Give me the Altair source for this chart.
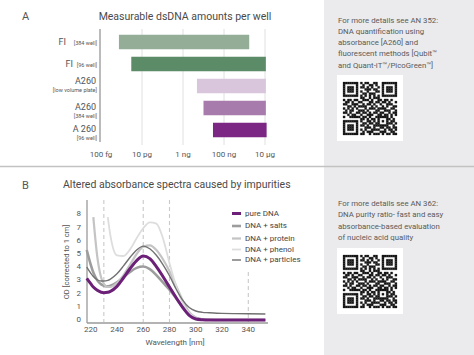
import altair as alt
import pandas as pd

FONT = "Roboto"

# ---------------- Panel A: measurable dsDNA amounts ----------------
methods = ["FI 384", "FI 96", "A260 low", "A260 384", "A260 96"]
main_labels = ["FI", "FI", "A260", "A260", "A 260"]
sub_labels = ["[384 well]", "[96 well]", "[low volume plate]", "[384 well]", "[96 well]"]
range_low_g = [7.5e-13, 3.0e-12, 4.8e-9, 1.0e-8, 2.9e-8]
range_high_g = [1.7e-6, 1.1e-5, 1.1e-5, 1.1e-5, 1.2e-5]
bar_colors = ["#94ad97", "#5c8b68", "#d9c5dc", "#a77cad", "#7c2784"]
mass_ticks = [1e-13, 1e-11, 1e-9, 1e-7, 1e-5]
mass_tick_labels = ["100 fg", "10 pg", "1 ng", "100 ng", "10 µg"]

# ---------------- Panel B: absorbance spectra ----------------
wavelength_nm = [217, 220, 222, 225, 228, 230, 233, 235, 240, 245, 250, 255, 260, 265,
                 270, 275, 280, 285, 290, 295, 300, 305, 310, 320, 330, 340, 353]
od_pure = [3.15, 2.75, 2.5, 2.25, 2.1, 2.07, 2.1, 2.17, 2.55, 3.2, 3.9, 4.5, 4.85, 4.65,
           4.05, 3.3, 2.5, 1.7, 0.95, 0.35, 0.08, 0.02, 0.0, 0.0, 0.0, 0.0, 0.0]
od_salts = [5.3, 4.2, 3.6, 3.0, 2.7, 2.6, 2.55, 2.6, 2.85, 3.25, 3.65, 3.95, 4.05, 3.85,
            3.4, 2.85, 2.3, 1.65, 1.0, 0.45, 0.15, 0.05, 0.02, 0.0, 0.0, 0.0, 0.0]
od_protein = [None, None, 7.8, 4.8, 3.2, 2.75, 2.5, 2.5, 2.8, 3.4, 4.2, 5.0, 5.55, 5.65,
              5.3, 4.6, 3.7, 2.6, 1.5, 0.6, 0.2, 0.05, 0.0, 0.0, 0.0, 0.0, 0.0]
od_phenol = [None, None, None, None, None, None, 7.8, 6.4, 4.9, 4.85, 5.35, 6.2, 6.95, 7.4,
             7.3, 6.2, 4.3, 2.6, 1.3, 0.5, 0.15, 0.04, 0.0, 0.0, 0.0, 0.0, 0.0]
od_particles = [4.0, 3.55, 3.3, 3.05, 2.95, 2.95, 3.0, 3.1, 3.5, 4.1, 4.75, 5.3, 5.6, 5.4,
                4.9, 4.2, 3.35, 2.35, 1.5, 0.95, 0.68, 0.58, 0.55, 0.5, 0.48, 0.47, 0.46]
series_names = ["pure DNA", "DNA + salts", "DNA + protein", "DNA + phenol", "DNA + particles"]
series_colors = ["#6c2077", "#9d9d9d", "#c4c4c4", "#dddddd", "#717171"]
series_widths = [3.0, 1.4, 1.4, 1.4, 1.6]
wl_ticks = [220, 240, 260, 280, 300, 320, 340]
od_ticks = [0, 1, 2, 3, 4, 5, 6, 7, 8]
dashed_wl = [230, 260, 280]
dashed_wl_short = [340]

# ---------------- Side notes ----------------
info_a = ["For more details see AN 352:", "DNA quantification using",
          "absorbance [A260] and", "fluorescent methods [Qubit™",
          "and Quant-iT™/PicoGreen™]"]
info_b = ["For more details see AN 362:", "DNA purity ratio- fast and easy",
          "absorbance-based evaluation", "of nucleic acid quality"]
qr_rows = [
    "1111111 0 101100110 0 1111111",
    "1000001 0 010011010 0 1000001",
    "1011101 0 110101001 0 1011101",
    "1011101 0 001110110 0 1011101",
    "1011101 0 100100011 0 1011101",
    "1000001 0 011011100 0 1000001",
    "1111111 0 101010101 0 1111111",
    "0000000 0 110010111 0 0000000",
    "1011011 0 011101001 1 0110100",
    "0110100 1 100011011 0 1101001",
    "1100111 0 010110100 1 0011100",
    "0011010 1 111001010 0 1010011",
    "1010101 0 001011101 1 1100110",
    "0101100 1 110100011 0 0111001",
    "1101001 1 011010110 1 1001011",
    "0010110 0 100111001 1 0110101",
    "1001111 1 01101001 11111 0100",
    "0000000 0 11010110 10001 1010",
    "1111111 0 10011010 10101 0110",
    "1000001 0 01101101 10001 1101",
    "1011101 0 11010011 11111 0010",
    "1011101 0 00111010 01101 1011",
    "1011101 0 10100111 10010 1101",
    "1000001 0 01011100 01110 0110",
    "1111111 0 11001011 10101 1011",
]

one = pd.DataFrame({"k": [0]})


def deco_text(text, x, y, size, color="#555555", align="left", angle=0, baseline="middle", line_height=None):
    kw = dict(text=text, font=FONT, fontSize=size, color=color, align=align, baseline=baseline)
    if angle:
        kw["angle"] = angle
    if line_height:
        kw["lineHeight"] = line_height
    return alt.Chart(one).mark_text(**kw).encode(x=alt.value(x), y=alt.value(y))


# ---------------- background ----------------
gray_panel = alt.Chart(one).mark_rect(color="#ebebed").encode(
    x=alt.value(324), x2=alt.value(474), y=alt.value(0), y2=alt.value(355))
separator = alt.Chart(one).mark_rule(color="#c2c2c2", strokeWidth=1.6).encode(
    x=alt.value(0), x2=alt.value(474), y=alt.value(166.5))
qr_bg1 = alt.Chart(one).mark_rect(color="white").encode(
    x=alt.value(337), x2=alt.value(403), y=alt.value(75), y2=alt.value(141))
qr_bg2 = alt.Chart(one).mark_rect(color="white").encode(
    x=alt.value(337), x2=alt.value(403), y=alt.value(248), y2=alt.value(314))

# ---------------- Panel A ----------------
dfA = pd.DataFrame({"method": methods, "main": main_labels, "sub": sub_labels,
                    "low": range_low_g, "high": range_high_g, "idx": list(range(5))})
xA = alt.Scale(type="log", domain=[1e-13, 1e-5], range=[101, 265], nice=False)
yA = alt.Scale(domain=methods, range=[31, 141], paddingInner=0.34, paddingOuter=0.17)

gridA = alt.Chart(pd.DataFrame({"m": mass_ticks[1:]})).mark_rule(color="#e0e0e0", strokeWidth=1).encode(
    x=alt.X("m:Q", scale=xA, axis=None), y=alt.value(29), y2=alt.value(145))
axisA = alt.Chart(one).mark_rule(color="#a5a5a5", strokeWidth=1.5).encode(
    x=alt.value(100), y=alt.value(29), y2=alt.value(142))
bars = alt.Chart(dfA).mark_bar().encode(
    x=alt.X("low:Q", scale=xA, axis=None),
    x2="high:Q",
    y=alt.Y("method:N", scale=yA, axis=None),
    color=alt.Color("method:N", scale=alt.Scale(domain=methods, range=bar_colors), legend=None))
ticksA = alt.Chart(pd.DataFrame({"m": mass_ticks, "lab": mass_tick_labels})).mark_text(
    font=FONT, fontSize=8, color="#555555").encode(
    x=alt.X("m:Q", scale=xA, axis=None), y=alt.value(155), text="lab:N")


def cat_label(idx, field, x, dy, size):
    return alt.Chart(dfA).transform_filter(f"datum.idx == {idx}").mark_text(
        font=FONT, fontSize=size, color="#555555", align="right", baseline="middle", dy=dy).encode(
        x=alt.value(x), y=alt.Y("method:N", scale=yA, axis=None), text=f"{field}:N")


labelsA = [
    cat_label(0, "main", 66, 0, 9), cat_label(0, "sub", 97, 0.5, 5.5),
    cat_label(1, "main", 73, 0, 9), cat_label(1, "sub", 97, 0.5, 5.5),
    cat_label(2, "main", 96, -5.5, 9), cat_label(2, "sub", 97, 4, 5.5),
    cat_label(3, "main", 96, -1.5, 9), cat_label(3, "sub", 97, 8, 5.5),
    cat_label(4, "main", 96, -1, 9), cat_label(4, "sub", 97, 8, 5.5),
]
panelA = alt.layer(gridA, axisA, bars, ticksA, *labelsA)

# ---------------- Panel B ----------------
rows = []
order_draw = [1, 2, 3, 4, 0]
all_series = [od_pure, od_salts, od_protein, od_phenol, od_particles]
for si in order_draw:
    for w, v in zip(wavelength_nm, all_series[si]):
        if v is not None:
            rows.append({"series": series_names[si], "wl": w, "od": v})
dfB = pd.DataFrame(rows)

xB = alt.Scale(domain=[220, 340], range=[90.7, 248.3], nice=False, zero=False)
yB = alt.Scale(domain=[0, 8], range=[320, 214.4], nice=False, zero=False)

dashB = alt.Chart(pd.DataFrame({"w": dashed_wl})).mark_rule(
    color="#c9c9c9", strokeWidth=1.1, strokeDash=[4, 3]).encode(
    x=alt.X("w:Q", scale=xB, axis=None), y=alt.value(200), y2=alt.value(322))
dashB2 = alt.Chart(pd.DataFrame({"w": dashed_wl_short})).mark_rule(
    color="#c9c9c9", strokeWidth=1.1, strokeDash=[4, 3]).encode(
    x=alt.X("w:Q", scale=xB, axis=None), y=alt.value(272), y2=alt.value(322))
yaxisB = alt.Chart(one).mark_rule(color="#9a9a9a", strokeWidth=1.3).encode(
    x=alt.value(87), y=alt.value(200), y2=alt.value(323))
xaxisB = alt.Chart(one).mark_rule(color="#9a9a9a", strokeWidth=1.3).encode(
    x=alt.value(87), x2=alt.value(268), y=alt.value(323))

legend_cfg = dict(orient="none", legendX=230.5, legendY=207.5, title=None, padding=0,
                  symbolType="stroke", symbolSize=81, symbolStrokeWidth=1.4,
                  labelFont=FONT, labelFontSize=8,
                  labelColor="#444444", rowPadding=0.5, labelOffset=2.5)
lines = alt.Chart(dfB).mark_line(interpolate="monotone").encode(
    x=alt.X("wl:Q", scale=xB, axis=None),
    y=alt.Y("od:Q", scale=yB, axis=None),
    color=alt.Color("series:N", scale=alt.Scale(domain=series_names, range=series_colors),
                    legend=alt.Legend(**legend_cfg)),
    strokeWidth=alt.StrokeWidth("series:O", scale=alt.Scale(domain=series_names, range=series_widths),
                                legend=alt.Legend(**legend_cfg)),
)
yticksB = alt.Chart(pd.DataFrame({"v": od_ticks})).mark_text(
    font=FONT, fontSize=8, color="#555555", align="right", baseline="middle").encode(
    x=alt.value(81), y=alt.Y("v:Q", scale=yB, axis=None), text="v:Q")
xticksB = alt.Chart(pd.DataFrame({"v": wl_ticks})).mark_text(
    font=FONT, fontSize=8, color="#555555", baseline="middle").encode(
    x=alt.X("v:Q", scale=xB, axis=None), y=alt.value(329.5), text="v:Q")
panelB = alt.layer(dashB, dashB2, yaxisB, xaxisB, lines, yticksB, xticksB)

# ---------------- QR codes ----------------
qr_cells = [(r, c) for r, row in enumerate(qr_rows) for c, ch in enumerate(row.replace(" ", "")) if ch == "1"]
qr_df = pd.DataFrame(qr_cells, columns=["r", "c"])


def qr_layer(y0, y1):
    return alt.Chart(qr_df).transform_calculate(c1="datum.c + 1", r1="datum.r + 1").mark_rect(
        color="#161616", stroke="#161616", strokeWidth=0.25).encode(
        x=alt.X("c:Q", scale=alt.Scale(domain=[0, 25], range=[343, 397], nice=False, zero=False), axis=None),
        x2="c1:Q",
        y=alt.Y("r:Q", scale=alt.Scale(domain=[0, 25], range=[y0, y1], nice=False, zero=False), axis=None),
        y2="r1:Q")


qr1 = qr_layer(82, 135)
qr2 = qr_layer(255, 308)

# ---------------- texts ----------------
texts = [
    deco_text("A", 22, 17, 11),
    deco_text("Measurable dsDNA amounts per well", 185, 17, 10.5, color="#4a4a4a", align="center"),
    deco_text("B", 22, 186, 11),
    deco_text("Altered absorbance spectra caused by impurities", 63, 185, 10.5, color="#4a4a4a"),
    deco_text("OD [corrected to 1 cm]", 67, 262, 7.5, align="center", angle=270),
    deco_text("Wavelength [nm]", 175, 343, 8, align="center"),
    deco_text(info_a, 338, 22.5, 7.8, color="#5a5a5a", baseline="alphabetic", line_height=11.3),
    deco_text(info_b, 338, 206, 7.8, color="#5a5a5a", baseline="alphabetic", line_height=11.3),
]

chart = alt.layer(
    gray_panel, separator, qr_bg1, qr_bg2, panelA, panelB, qr1, qr2, *texts
).resolve_scale(
    x="independent", y="independent", color="independent", strokeWidth="independent"
).properties(
    width=474, height=355, padding=0, background="white",
    autosize=alt.AutoSizeParams(type="none")
).configure_view(strokeWidth=0)

chart.save("out.html", embed_options={"renderer": "svg", "actions": False})
